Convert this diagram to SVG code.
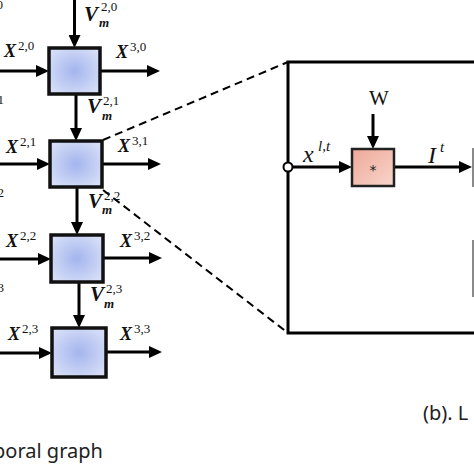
<svg xmlns="http://www.w3.org/2000/svg" width="474" height="474" viewBox="0 0 474 474">
<defs>
<radialGradient id="gb" cx="0.5" cy="0.5" r="0.6">
<stop offset="0" stop-color="#a4b5ee"/>
<stop offset="1" stop-color="#d6def7"/>
</radialGradient>
<linearGradient id="gp" x1="0" y1="0" x2="1" y2="1">
<stop offset="0" stop-color="#eea898"/>
<stop offset="1" stop-color="#f8d6cc"/>
</linearGradient>
<marker id="ah" markerUnits="userSpaceOnUse" markerWidth="13" markerHeight="12" refX="0" refY="6" orient="auto">
<path d="M0,0 L13,6 L0,12 z" fill="#000"/>
</marker>
</defs>
<style>
.ln{stroke:#000;stroke-width:3;fill:none}
.ar{stroke:#000;stroke-width:3;fill:none;marker-end:url(#ah)}
.box{fill:url(#gb);stroke:#111;stroke-width:3.5}
.mb{font-family:"Liberation Serif",serif;font-weight:bold;font-style:italic;font-size:18px;fill:#111}
.mv{font-family:"Liberation Serif",serif;font-weight:bold;font-style:italic;font-size:21px;fill:#111}
.sp{font-family:"Liberation Serif",serif;font-size:13px;fill:#111}
.sm{font-family:"Liberation Serif",serif;font-style:italic;font-weight:bold;font-size:13px;fill:#111}
.mi{font-family:"Liberation Serif",serif;font-style:italic;font-size:24px;fill:#111}
.si{font-family:"Liberation Serif",serif;font-style:italic;font-size:15px;fill:#111}
.cap{font-family:"Noto Sans","DejaVu Sans",sans-serif;font-size:20px;fill:#222}
</style>
<g id="connectors">
<line class="ar" x1="74.5" y1="0" x2="74.5" y2="35"/>
<line class="ar" x1="76" y1="94" x2="76" y2="128"/>
<line class="ar" x1="77" y1="187" x2="77" y2="222"/>
<line class="ar" x1="79" y1="282" x2="79" y2="315"/>
<line class="ar" x1="0" y1="71" x2="36" y2="71"/>
<line class="ar" x1="0" y1="164" x2="37" y2="164"/>
<line class="ar" x1="0" y1="259" x2="38" y2="259"/>
<line class="ar" x1="0" y1="353" x2="39" y2="353"/>
<line class="ar" x1="100" y1="71" x2="147" y2="71"/>
<line class="ar" x1="102" y1="164" x2="148" y2="164"/>
<line class="ar" x1="103" y1="258" x2="149" y2="258"/>
<line class="ar" x1="106" y1="352" x2="149" y2="352"/>
<line x1="103" y1="140" x2="288" y2="62" stroke="#000" stroke-width="2" stroke-dasharray="8,5"/>
<line x1="103" y1="190" x2="288" y2="333" stroke="#000" stroke-width="2" stroke-dasharray="8,5"/>
<line class="ar" x1="292.5" y1="167" x2="339" y2="167"/>
<line class="ar" x1="373" y1="114" x2="373" y2="136"/>
<line class="ar" x1="394" y1="167" x2="459" y2="167"/>
</g>
<g id="panel">
<path class="ln" d="M474,62 L288,62 L288,333 L474,333"/>
<rect x="472" y="148" width="3" height="39" fill="#8a8a8a"/>
<rect x="472" y="240" width="3" height="57" fill="#8a8a8a"/>
</g>
<g id="node0"><rect class="box" x="49" y="48" width="51" height="46"/></g>
<g id="node1"><rect class="box" x="50" y="141" width="52" height="46"/></g>
<g id="node2"><rect class="box" x="51" y="235" width="52" height="47"/></g>
<g id="node3"><rect class="box" x="52" y="328" width="54" height="49"/></g>
<g id="split"><circle cx="288" cy="167" r="4.5" fill="#fff" stroke="#000" stroke-width="2"/></g>
<g id="conv">
<rect x="352" y="149" width="42" height="37" fill="url(#gp)" stroke="#222" stroke-width="2.5"/>
<text x="373" y="175" text-anchor="middle" font-family="DejaVu Sans,sans-serif" font-size="14" fill="#222">*</text>
</g>
<g id="labels">
<text class="mv" x="84" y="21">V</text><text class="sp" x="101" y="11">2,0</text><text class="sm" x="99" y="27">m</text>
<text class="mb" x="4" y="57">X</text><text class="sp" x="18" y="50">2,0</text>
<text class="mb" x="116" y="58">X</text><text class="sp" x="130" y="51">3,0</text>
<text class="mv" x="87" y="113">V</text><text class="sp" x="103" y="105">2,1</text><text class="sm" x="102" y="120">m</text>
<text class="mb" x="6" y="153">X</text><text class="sp" x="20" y="146">2,1</text>
<text class="mb" x="118" y="152">X</text><text class="sp" x="132" y="145">3,1</text>
<text class="mv" x="88" y="208">V</text><text class="sp" x="104" y="200">2,2</text><text class="sm" x="102" y="214">m</text>
<text class="mb" x="6" y="247">X</text><text class="sp" x="20" y="240">2,2</text>
<text class="mb" x="120" y="247">X</text><text class="sp" x="134" y="240">3,2</text>
<text class="mv" x="90" y="301">V</text><text class="sp" x="106" y="293">2,3</text><text class="sm" x="104" y="308">m</text>
<text class="mb" x="8" y="340">X</text><text class="sp" x="22" y="333">2,3</text>
<text class="mb" x="120" y="340">X</text><text class="sp" x="134" y="333">3,3</text>
<text class="sp" x="4" y="104" text-anchor="end">1</text>
<text class="sp" x="4" y="197" text-anchor="end">2</text>
<text class="sp" x="4" y="292" text-anchor="end">3</text>
<text class="sp" x="3" y="9" text-anchor="end">0</text>
<text class="mi" x="303" y="162">x</text><text class="si" x="318" y="151">l,t</text>
<text x="379" y="105" text-anchor="middle" font-family="Liberation Serif,serif" font-size="21" fill="#111">W</text>
<text class="mi" x="428" y="163">I</text><text class="si" x="440" y="152">t</text>
<text class="cap" x="423" y="420">(b). L</text>
<text class="cap" x="-7" y="458">poral graph</text>
</g>
</svg>
